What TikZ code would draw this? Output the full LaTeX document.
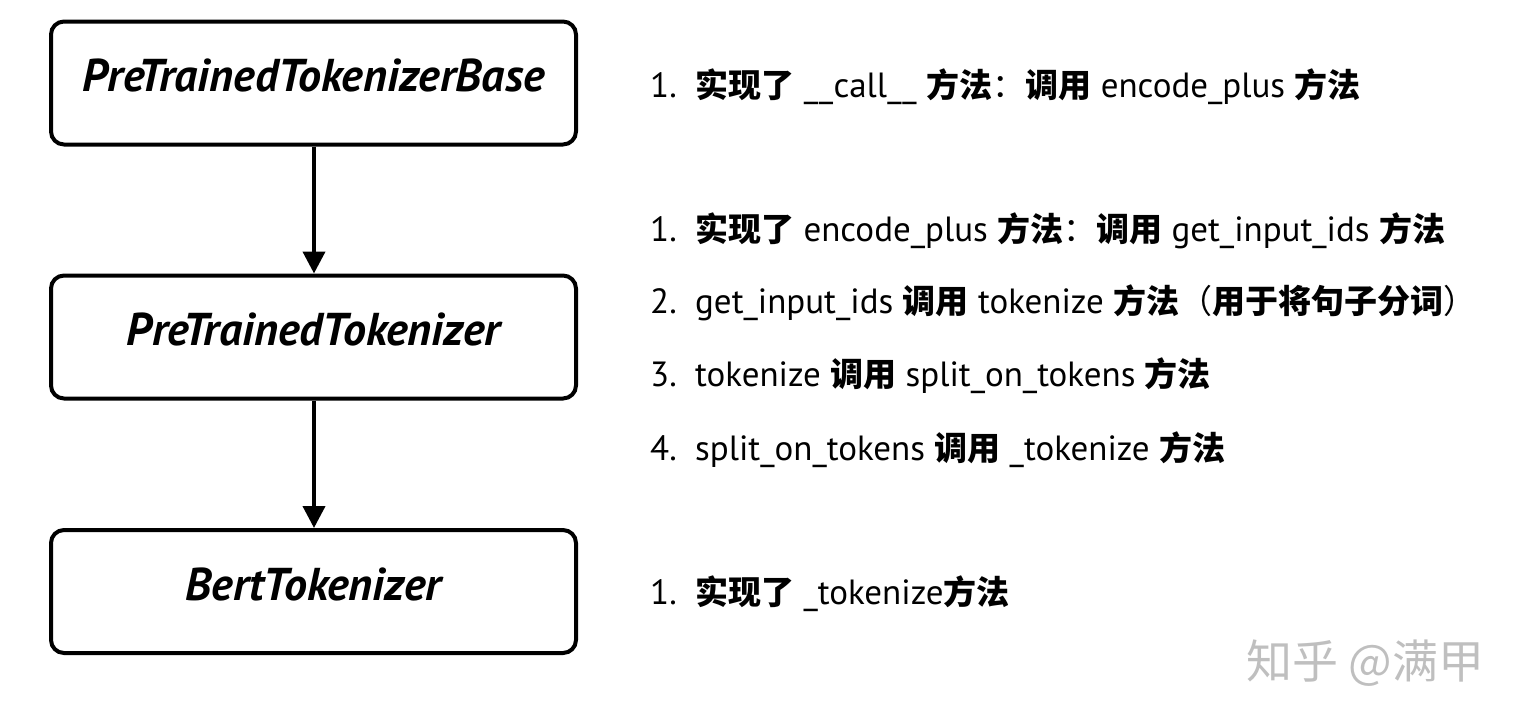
\documentclass[tikz,border=0pt]{standalone}
\usepackage{fontspec}
\setmainfont{PT Sans}
\newfontfamily\cjk{Noto Sans CJK SC}
\usetikzlibrary{arrows.meta}
\newcommand{\zh}[1]{{\cjk\bfseries\fontsize{33}{36}\selectfont #1}}
\newcommand{\zhr}[1]{{\cjk\fontsize{33}{36}\selectfont #1}}
\newcommand{\num}[1]{\makebox[45pt][l]{#1}}
\newcommand{\us}{\makebox[15pt][c]{\_}}
\tikzset{
  clsbox/.style={draw=black, line width=4pt, rounded corners=13pt, minimum width=525pt, minimum height=123pt, inner sep=0pt, text height=33pt, text depth=16pt, font=\fontsize{46}{50}\selectfont\bfseries\itshape},
  inh/.style={line width=4pt, -{Triangle[length=22pt,width=22pt]}},
  desc/.style={anchor=base west, inner sep=0pt, font=\fontsize{35}{40}\selectfont},
}
\begin{document}
\begin{tikzpicture}[x=1pt,y=-1pt]
\useasboundingbox (0,0) rectangle (1524,724);
\node[clsbox] (base) at (313.5,83) {PreTrainedTokenizerBase};
\node[clsbox] (pre) at (313.5,337) {PreTrainedTokenizer};
\node[clsbox] (bert) at (313.5,591.5) {BertTokenizer};
\draw[inh] (base.south -| 314,0) -- (pre.north -| 314,0);
\draw[inh] (pre.south -| 314,0) -- (bert.north -| 314,0);

\node[desc] (t1) at (650,97) {\num{1.}\zh{实现了} \us\us call\us\us{} \zh{方法}\zhr{：}\zh{调用} encode\_plus \zh{方法}};
\node[desc] (t2) at (650,241) {\num{1.}\zh{实现了} encode\_plus \zh{方法}\zhr{：}\zh{调用} get\_input\_ids \zh{方法}};
\node[desc] (t3) at (650,313) {\num{2.}get\_input\_ids \zh{调用} tokenize \zh{方法}\zhr{（}\zh{用于将句子分词}\zhr{）}};
\node[desc] (t4) at (650,386) {\num{3.}tokenize \zh{调用} split\_on\_tokens \zh{方法}};
\node[desc] (t5) at (650,460) {\num{4.}split\_on\_tokens \zh{调用} \_tokenize \zh{方法}};
\node[desc] (t6) at (650,604) {\num{1.}\zh{实现了} \_tokenize\zh{方法}};

\node[anchor=base west, inner sep=0pt, text=black!25, font=\fontsize{46}{50}\selectfont\cjk] (wm) at (1246,678) {知乎 @满甲};
\end{tikzpicture}
\end{document}
